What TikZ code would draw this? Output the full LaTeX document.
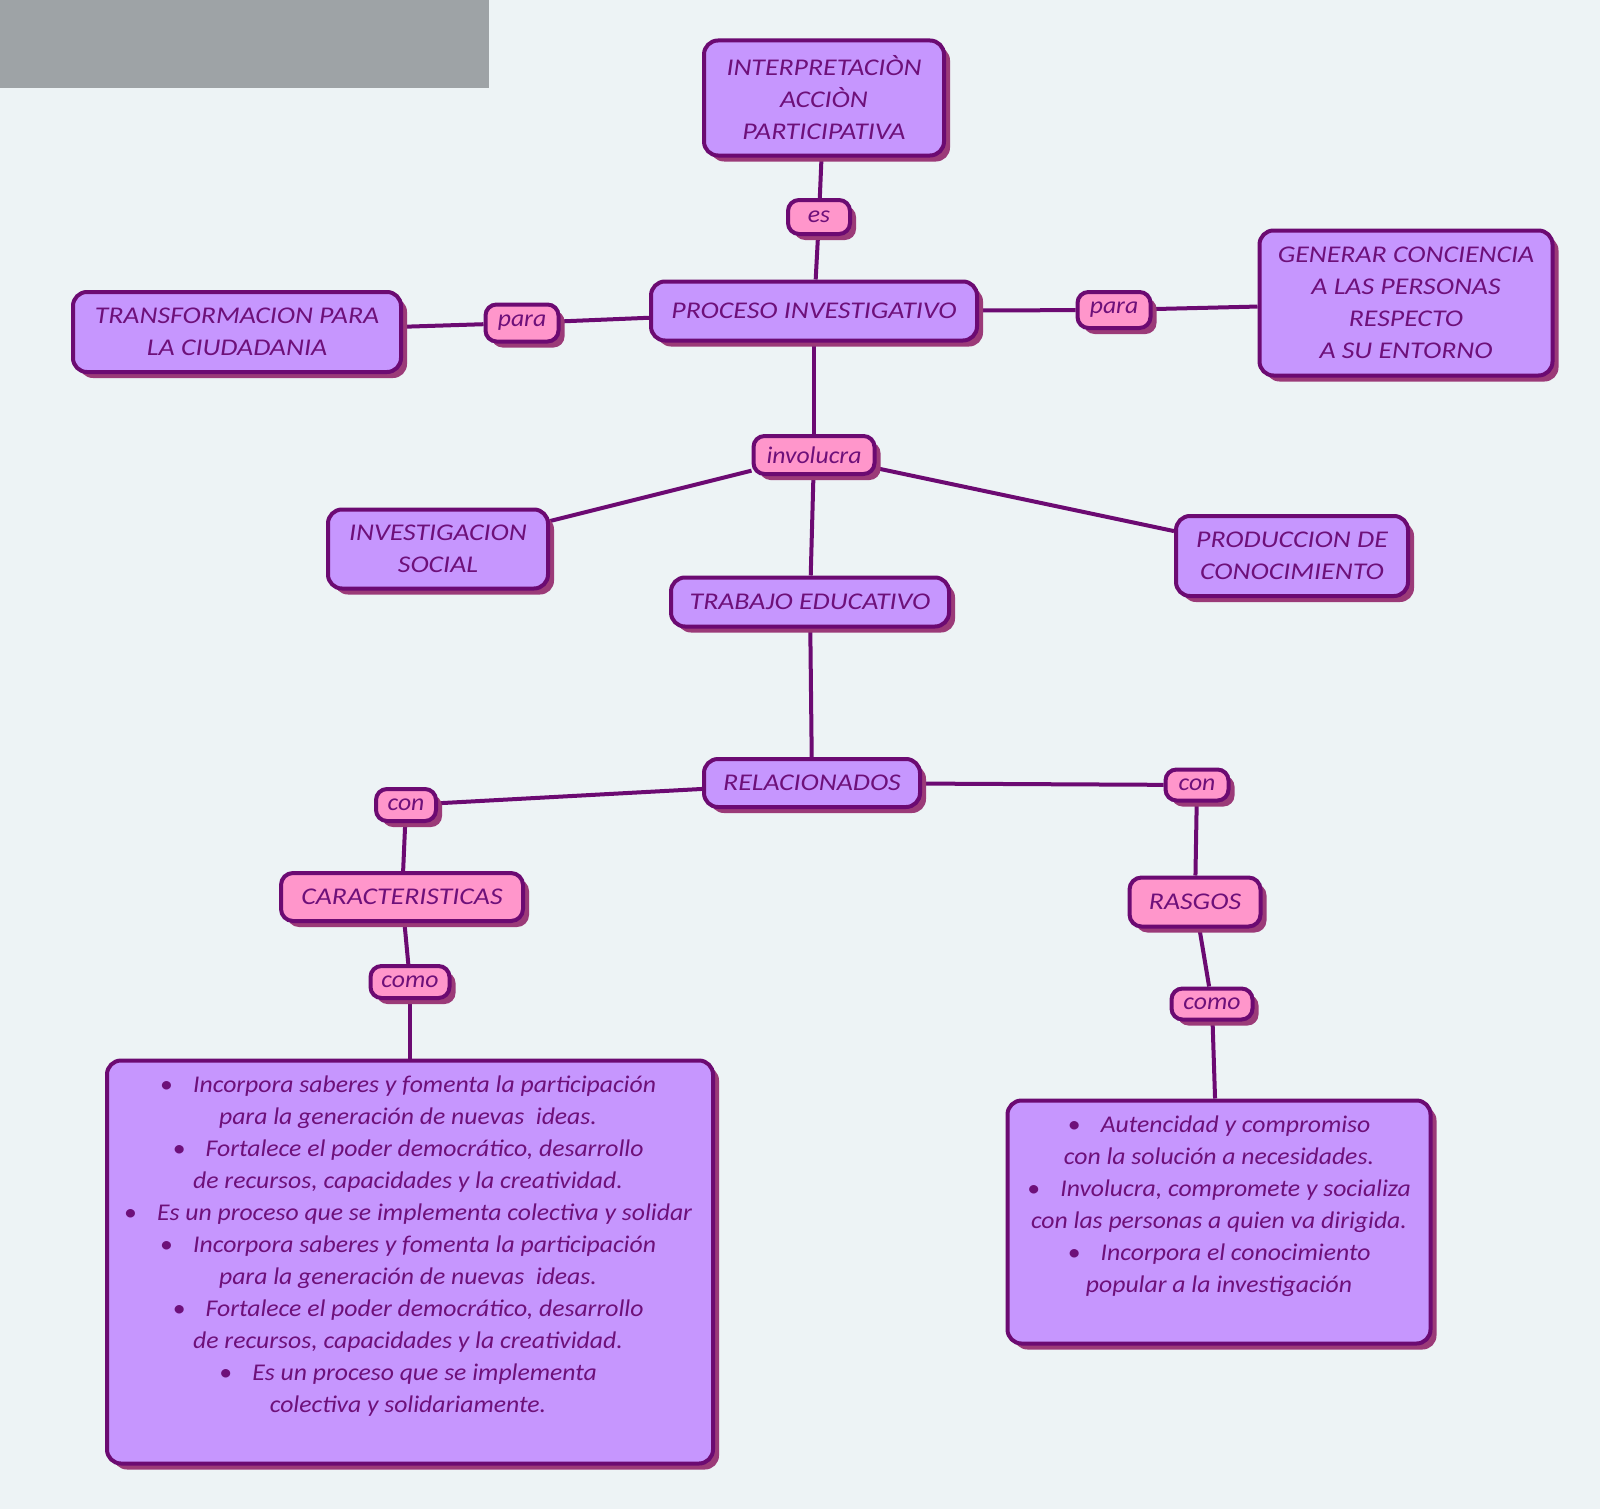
\documentclass[tikz,border=0pt]{standalone}
\usepackage{fontspec}
\setmainfont{Carlito}[FakeStretch=1.07]
\newfontfamily\capsf{Carlito}[FakeStretch=1.16]
\usetikzlibrary{shadows,backgrounds}
\definecolor{bg}{HTML}{EDF3F5}
\definecolor{greyrect}{HTML}{9EA3A6}
\definecolor{lav}{HTML}{C696FE}
\definecolor{pinkf}{HTML}{FF96CB}
\definecolor{bord}{HTML}{6C0A72}
\definecolor{shad}{HTML}{9B3A78}
\definecolor{txt}{HTML}{6E107A}
\newcommand{\bul}{•\hspace{0.85em}}
\tikzset{
  box/.style={draw=bord, line width=4pt, fill=lav, rounded corners=14pt, align=center,
    text=txt, inner sep=0pt, font=\capsf\fontsize{24}{32}\selectfont\itshape,
    drop shadow={shadow xshift=6pt, shadow yshift=-6pt, fill=shad, opacity=1}},
  lab/.style={box, fill=pinkf, rounded corners=11pt, font=\rmfamily\fontsize{24}{32}\selectfont\itshape},
  pbox/.style={box, fill=pinkf, rounded corners=12pt},
  plain/.style={align=center, text=txt, inner sep=0pt, font=\rmfamily\fontsize{24}{32}\selectfont\itshape},
  conn/.style={draw=bord, line width=4pt}
}
\begin{document}
\begin{tikzpicture}[x=1pt,y=-1pt]
\useasboundingbox (0,0) rectangle (1600,1509);

% nodes
\node[box, minimum width=240pt, minimum height=115pt] (interp) at (824,98) {INTERPRETACIÒN\\ACCIÒN\\PARTICIPATIVA};
\node[lab, minimum width=62pt, minimum height=34pt] (es) at (819,217) {es};
\node[box, minimum width=326pt, minimum height=59pt] (proc) at (814,311) {PROCESO INVESTIGATIVO};
\node[box, minimum width=328pt, minimum height=80pt] (transf) at (237,332) {TRANSFORMACION PARA\\LA CIUDADANIA};
\node[lab, minimum width=73pt, minimum height=37pt] (paraL) at (522,323) {para};
\node[lab, minimum width=73pt, minimum height=36pt] (paraR) at (1114,310) {para};
\node[box, minimum width=293pt, minimum height=145pt] (gen) at (1406,303) {GENERAR CONCIENCIA\\A LAS PERSONAS\\RESPECTO\\A SU ENTORNO};
\node[lab, minimum width=121pt, minimum height=38pt] (invol) at (814,455) {involucra};
\node[box, minimum width=220pt, minimum height=79pt] (invsoc) at (438,549) {INVESTIGACION\\SOCIAL};
\node[box, minimum width=232pt, minimum height=80pt] (prod) at (1292,556) {PRODUCCION DE\\CONOCIMIENTO};
\node[box, minimum width=278pt, minimum height=49pt] (trab) at (810,602) {TRABAJO EDUCATIVO};
\node[box, minimum width=216pt, minimum height=48pt] (rel) at (812,783) {RELACIONADOS};
\node[lab, minimum width=60pt, minimum height=32pt] (conL) at (406,805) {con};
\node[lab, minimum width=63pt, minimum height=31pt] (conR) at (1197,785) {con};
\node[pbox, minimum width=242pt, minimum height=48pt] (carac) at (402,897) {CARACTERISTICAS};
\node[pbox, minimum width=131pt, minimum height=49pt] (rasgos) at (1195,902) {RASGOS};
\node[lab, minimum width=79pt, minimum height=32pt] (comoL) at (410,982) {como};
\node[lab, minimum width=81pt, minimum height=31pt] (comoR) at (1212,1004) {como};
\node[box, minimum width=606pt, minimum height=403pt] (bigL) at (410,1262) {};
\node[box, minimum width=423pt, minimum height=243pt] (bigR) at (1219,1222) {};

\node[plain] (txtL) at (408,1246) {%
\bul Incorpora saberes y fomenta la participación\\
para la generación de nuevas\ \ ideas.\\
\bul Fortalece el poder democrático, desarrollo\\
de recursos, capacidades y la creatividad.\\
\bul Es un proceso que se implementa colectiva y solidar\\
\bul Incorpora saberes y fomenta la participación\\
para la generación de nuevas\ \ ideas.\\
\bul Fortalece el poder democrático, desarrollo\\
de recursos, capacidades y la creatividad.\\
\bul Es un proceso que se implementa\\
colectiva y solidariamente.};
\node[plain] (txtR) at (1219,1206) {%
\bul Autencidad y compromiso\\
con la solución a necesidades.\\
\bul Involucra, compromete y socializa\\
con las personas a quien va dirigida.\\
\bul Incorpora el conocimiento\\
popular a la investigación};

% connectors
\begin{scope}[on background layer]
\fill[bg] (0,0) rectangle (1600,1509);
\fill[greyrect] (0,0) rectangle (489,88);
\draw[conn] (interp) -- (es);
\draw[conn] (es) -- (proc);
\draw[conn] (transf) -- (paraL);
\draw[conn] (paraL) -- (proc);
\draw[conn] (proc) -- (paraR);
\draw[conn] (paraR) -- (gen);
\draw[conn] (proc) -- (invol);
\draw[conn] (invol) -- (invsoc);
\draw[conn] (invol) -- (prod);
\draw[conn] (invol) -- (trab);
\draw[conn] (trab) -- (rel);
\draw[conn] (rel) -- (conL);
\draw[conn] (rel) -- (conR);
\draw[conn] (conL) -- (carac);
\draw[conn] (carac) -- (comoL);
\draw[conn] (comoL) -- (bigL);
\draw[conn] (conR) -- (rasgos);
\draw[conn] (rasgos) -- (comoR);
\draw[conn] (comoR) -- (bigR);
\end{scope}
\end{tikzpicture}
\end{document}
